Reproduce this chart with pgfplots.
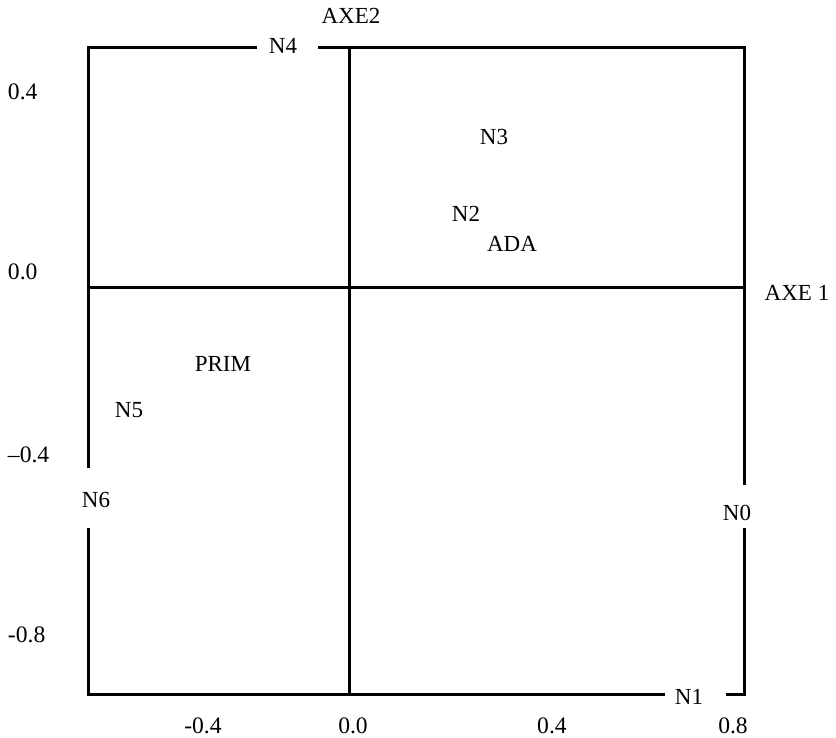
\documentclass[border=0pt]{standalone}
\usepackage{fontspec}
\setmainfont{Liberation Serif}
\usepackage{pgfplots}
\pgfplotsset{compat=1.18}
\pgfplotsset{frameline/.style={draw=black, line width=1.5pt, line join=miter, line cap=butt, mark=none}}
\begin{document}
\begin{tikzpicture}
\begin{axis}[
  scale only axis, width=418pt, height=369pt,
  xmin=-0.7068, xmax=0.9863, ymin=-0.9945, ymax=0.6365,
  axis line style={draw=none}, tick style={draw=none},
  clip=false,
  font=\fontsize{11.5}{13}\selectfont,
  xtick={-0.2957,0.0081,0.4111,0.7777},
  xticklabels={-0.4,0.0,0.4,0.8},
  ytick={-0.7669,-0.3691,0.0354,0.4331},
  yticklabels={-0.8,–0.4,0.0,0.4},
  xticklabel style={anchor=center, inner sep=0pt, yshift=6pt, font=\fontsize{11.8}{13}\selectfont},
  yticklabel style={anchor=west, inner sep=0pt, xshift=3.8pt, font=\fontsize{11.8}{13}\selectfont},
]
\path (rel axis cs:0,0) rectangle (rel axis cs:1,1);
% frame with gaps for labels
\addplot[frameline] coordinates {(-0.0628,0.5304) (0.8,0.5304) (0.8,-0.4354)};
\addplot[frameline] coordinates {(0.8,-0.5304) (0.8,-0.8994) (0.7635,-0.8994)};
\addplot[frameline] coordinates {(0.64,-0.8994) (-0.5266,-0.8994) (-0.5266,-0.5304)};
\addplot[frameline] coordinates {(-0.5266,-0.3978) (-0.5266,0.5304) (-0.1863,0.5304)};
% axes through origin
\addplot[frameline] coordinates {(0,-0.8994) (0,0.5304)};
\addplot[frameline] coordinates {(-0.5266,0) (0.8,0)};
% point labels
\addplot[draw=none, mark=none, nodes near coords, point meta=explicit symbolic,
  nodes near coords style={anchor=center, inner sep=0pt, font=\fontsize{11.5}{13}\selectfont}]
  table[x=x, y=y, meta=label, col sep=comma, row sep=\\] {
x,y,label\\
0.2937,0.3337,N3\\
0.2370,0.1635,N2\\
0.3301,0.0972,ADA\\
-0.2552,-0.1680,PRIM\\
-0.4456,-0.2696,N5\\
-0.5124,-0.4685,N6\\
0.7858,-0.4972,N0\\
0.6886,-0.9039,N1\\
-0.1337,0.5348,N4\\
0.0041,0.6011,AXE2\\
0.9073,-0.0110,AXE 1\\
};
\end{axis}
\end{tikzpicture}
\end{document}
